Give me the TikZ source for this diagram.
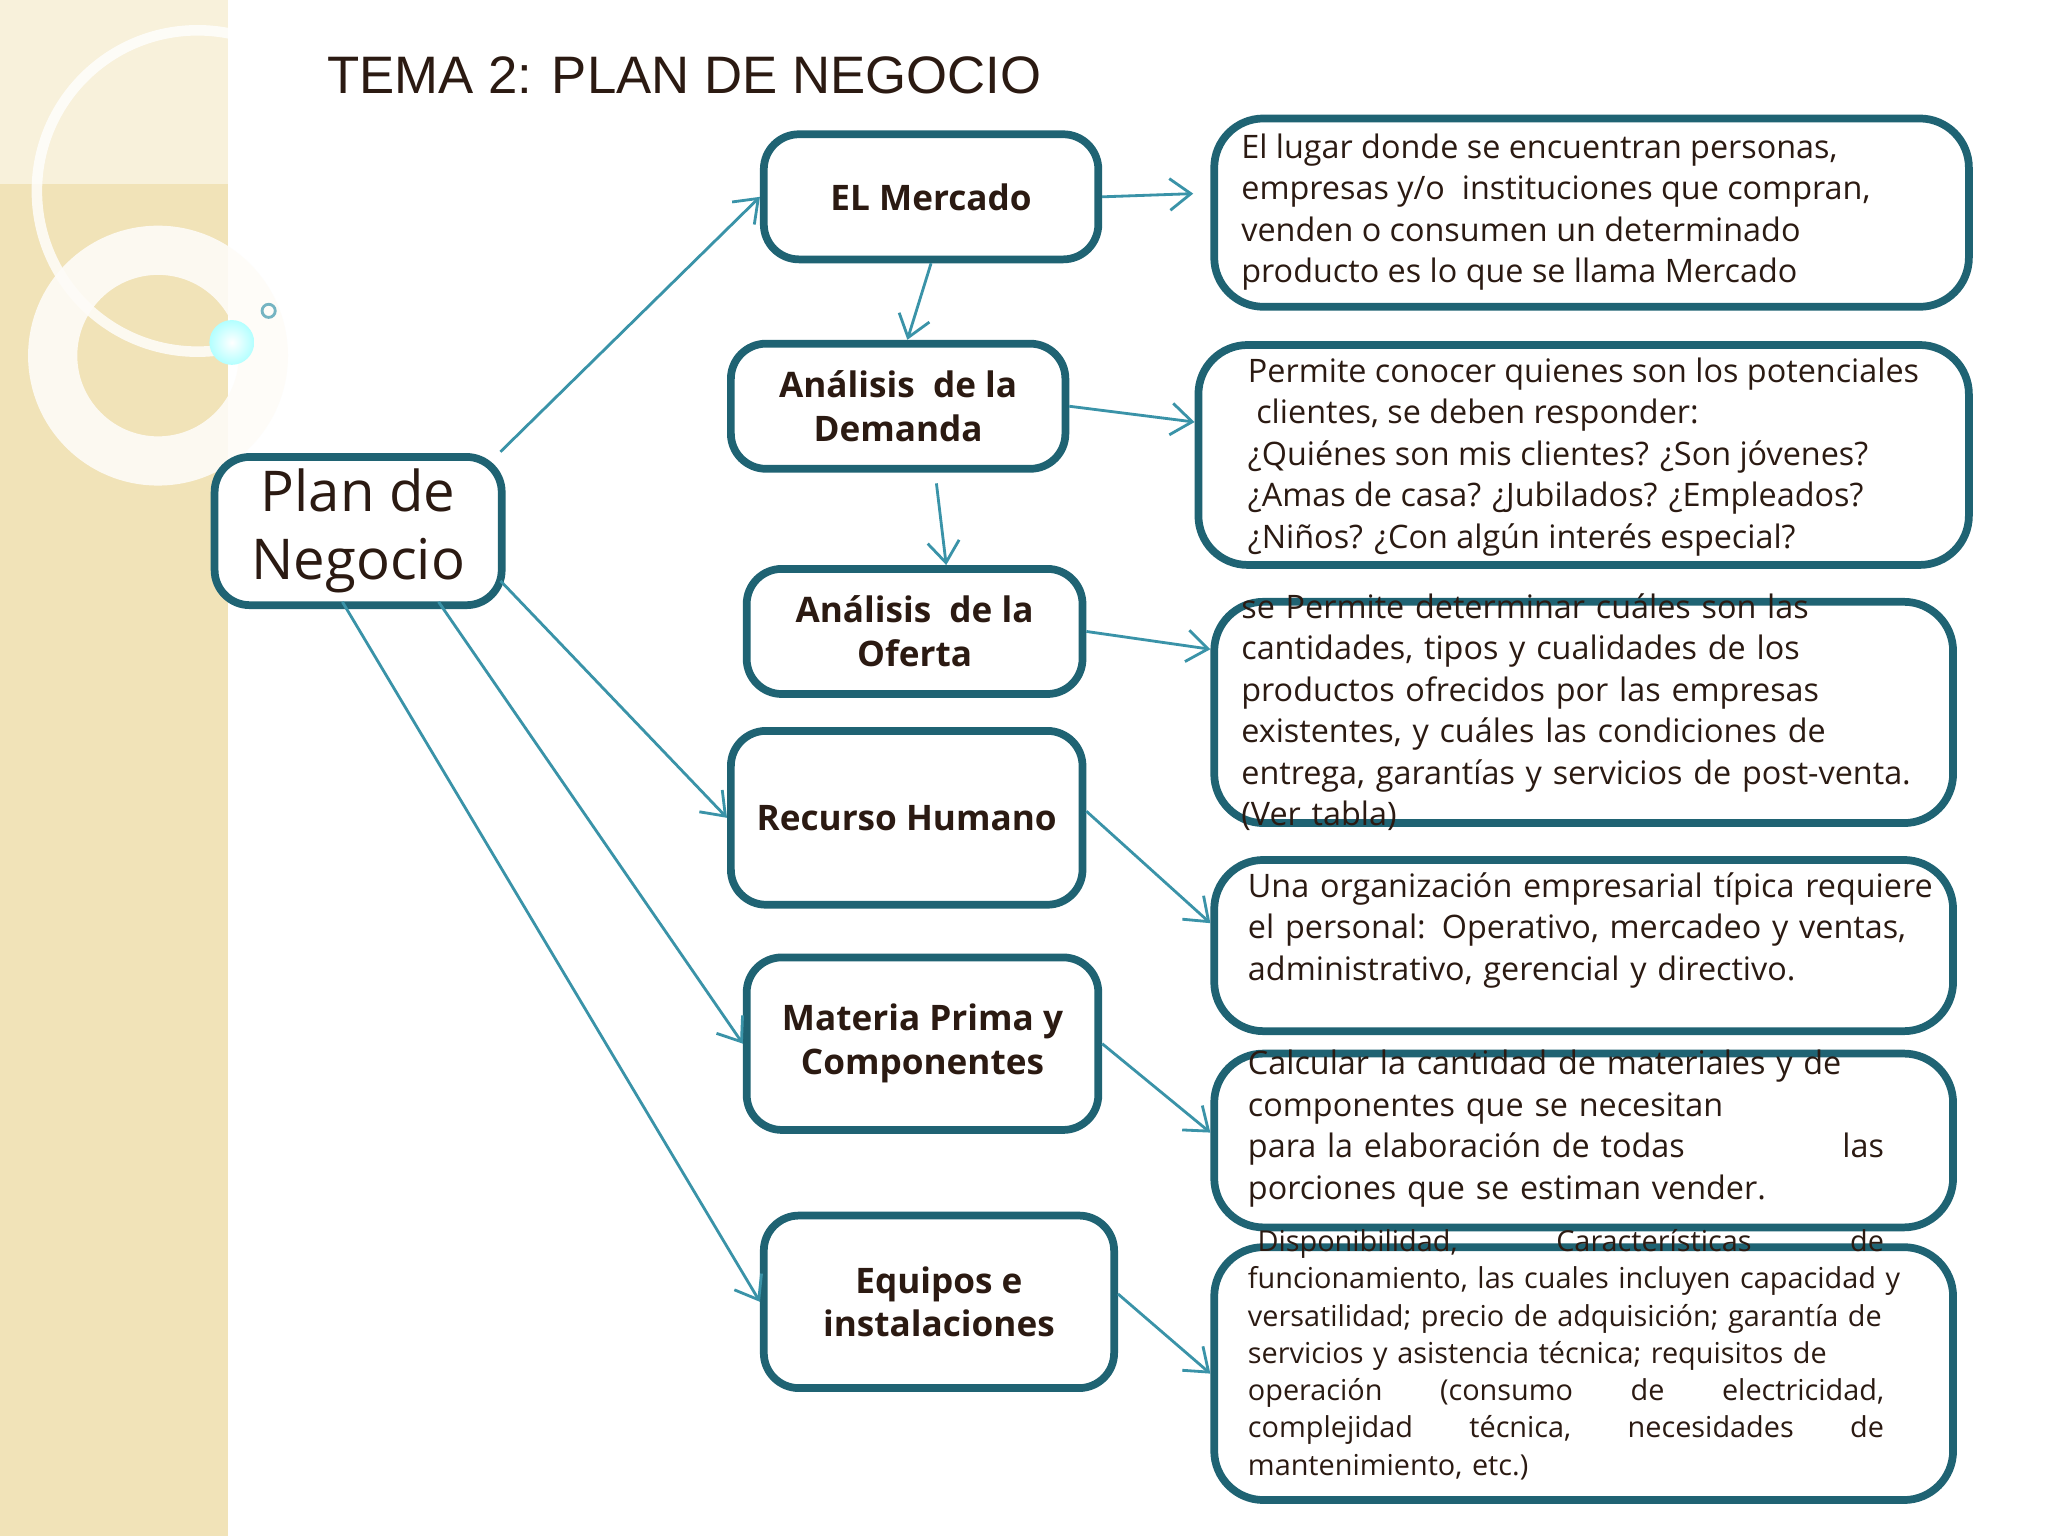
\documentclass[tikz,border=0pt]{standalone}
\usepackage{fontspec}
\setmainfont{Open Sans}
\newfontfamily\titlefont{Liberation Sans}
\usetikzlibrary{arrows.meta, positioning}
\definecolor{boxline}{HTML}{1F6373}
\definecolor{wirecol}{HTML}{3A93A8}
\definecolor{strip}{HTML}{F1E3B8}
\definecolor{darktext}{HTML}{2B1A12}
\newcommand{\jl}[1]{\hbox to \hsize{#1}}
\tikzset{
    topic/.style={
        rectangle, rounded corners=10pt, draw=boxline, line width=2.2pt,
        fill=white, font=\fontsize{10}{12.5}\selectfont\bfseries,
        text=darktext, align=center, anchor=north west
    },
    infobox/.style={
        rectangle, rounded corners=14pt, draw=boxline, line width=2.2pt,
        anchor=north west
    },
    infotext/.style={
        anchor=north west, inner sep=0pt, text=darktext,
        font=\fontsize{9.2}{11.8}\selectfont, align=left
    },
    wire/.style={draw=wirecol, line width=0.8pt, -{Straight Barb[length=6pt,width=9pt]}}
}
\begin{document}
\begin{tikzpicture}[x=0.01317cm, y=-0.01317cm]
\useasboundingbox (0,0) rectangle (1555,1166);
\fill[white] (0,0) rectangle (1555,1166);

% decorative strip
\fill[strip] (0,0) rectangle (173,1166);
\fill[white, opacity=0.5] (0,0) rectangle (173,140);
\draw[white, line width=3pt, opacity=0.8] (150,145) circle (122);
\draw[white!90!strip, line width=14pt, opacity=0.9] (120,270) circle (80);
\shade[inner color=white, outer color=cyan!30] (176,260) circle (17);
\draw[wirecol!70, line width=0.8pt] (204,236) circle (5);

% Title
\node[anchor=west, inner sep=0pt, font=\titlefont\fontsize{15}{18}\selectfont, text=darktext] (title) at (248,57) {TEMA 2: PLAN DE NEGOCIO};

% Main topic
\node[topic, minimum width=218*0.01317cm, minimum height=107*0.01317cm,
      font=\fontsize{16}{19.5}\selectfont] (plan) at (160,344) {Plan de\\Negocio};

% Sub topics
\node[topic, minimum width=254*0.01317cm, minimum height=95*0.01317cm] (mercado) at (577,99) {EL Mercado};
\node[topic, minimum width=254*0.01317cm, minimum height=95*0.01317cm] (demanda) at (552,258) {Análisis \ de la\\Demanda};
\node[topic, minimum width=255*0.01317cm, minimum height=95*0.01317cm] (oferta) at (564,429) {Análisis \ de la\\Oferta};
\node[topic, minimum width=267*0.01317cm, minimum height=132*0.01317cm] (recurso) at (552,552) {Recurso Humano};
\node[topic, minimum width=267*0.01317cm, minimum height=131*0.01317cm] (materia) at (564,724) {Materia Prima y\\Componentes};
\node[topic, minimum width=266*0.01317cm, minimum height=131*0.01317cm] (equipos) at (577,920) {Equipos e\\instalaciones};

% Description boxes
\node[infobox, minimum width=573*0.01317cm, minimum height=143*0.01317cm] (b1) at (919,87) {};
\node[infobox, minimum width=585*0.01317cm, minimum height=167*0.01317cm] (b2) at (907,259) {};
\node[infobox, minimum width=561*0.01317cm, minimum height=168*0.01317cm] (b3) at (919,454) {};
\node[infobox, minimum width=561*0.01317cm, minimum height=130*0.01317cm] (b4) at (919,650) {};
\node[infobox, minimum width=561*0.01317cm, minimum height=132*0.01317cm] (b5) at (919,797) {};
\node[infobox, minimum width=561*0.01317cm, minimum height=192*0.01317cm] (b6) at (919,944) {};

% Description texts
\node[infotext] (d1) at (942,101) {El lugar donde se encuentran personas,\\empresas y/o \ instituciones que compran,\\venden o consumen un determinado\\producto es lo que se llama Mercado};
\node[infotext] (d2) at (947,271) {Permite conocer quienes son los potenciales\\\ clientes, se deben responder:\\¿Quiénes son mis clientes? ¿Son jóvenes?\\¿Amas de casa? ¿Jubilados? ¿Empleados?\\¿Niños? ¿Con algún interés especial?};
\node[infotext, text width=516*0.01317cm] (d3) at (942,450) {%
  \jl{se Permite determinar cuáles son las}
  \jl{cantidades, tipos y cualidades de los}
  \jl{productos ofrecidos por las empresas}
  \jl{existentes, y cuáles las condiciones de}
  \jl{entrega, garantías y servicios de post-venta.}
  (Ver tabla)};
\node[infotext, text width=519*0.01317cm] (d4) at (947,662) {%
  \jl{Una organización empresarial típica requiere}
  \jl{el personal: Operativo, mercadeo y ventas,}
  administrativo, gerencial y directivo.};
\node[infotext, text width=483*0.01317cm] (d5) at (947,797) {%
  \jl{Calcular la cantidad de materiales y de}
  componentes que se necesitan\\
  \jl{para la elaboración de todas \hfil\ las}
  porciones que se estiman vender.};
\node[infotext, text width=483*0.01317cm, font=\fontsize{8.2}{10.6}\selectfont] (d6) at (947,933) {%
  \jl{\ Disponibilidad, \hfil Características \hfil de}
  \jl{funcionamiento, las cuales incluyen capacidad y}
  \jl{versatilidad; precio de adquisición; garantía de}
  \jl{servicios y asistencia técnica; requisitos de}
  \jl{operación \hfil (consumo \hfil de \hfil electricidad,}
  \jl{complejidad \hfil técnica, \hfil necesidades \hfil de}
  mantenimiento, etc.)};

% Connectors from main topic
\coordinate (p1) at (380,343);
\coordinate (p2) at (380,441);
\coordinate (p3) at (333,457);
\coordinate (p4) at (260,457);
\draw[wire] (p1) -- (mercado.west);
\draw[wire] (p2) -- (recurso.west);
\draw[wire] (p3) -- (materia.west);
\draw[wire] (p4) -- (equipos.west);

% Vertical connectors
\coordinate (gap) at (711,367);
\draw[wire] (mercado.south) -- ([xshift=7*0.01317cm]demanda.north);
\draw[wire] (gap) -- ([xshift=24*0.01317cm]oferta.north);

% Connectors to descriptions
\coordinate (e1) at (906,147);
\draw[wire] (mercado.east) -- (e1);
\draw[wire] (demanda.east) -- ([yshift=25*0.01317cm]b2.west);
\draw[wire] (oferta.east) -- ([yshift=48*0.01317cm]b3.west);
\draw[wire] ([yshift=5*0.01317cm]recurso.east) -- ([yshift=17*0.01317cm]b4.west);
\draw[wire] (materia.east) -- ([yshift=6*0.01317cm]b5.west);
\draw[wire] ([yshift=6*0.01317cm]equipos.east) -- (b6.west);
\end{tikzpicture}
\end{document}
